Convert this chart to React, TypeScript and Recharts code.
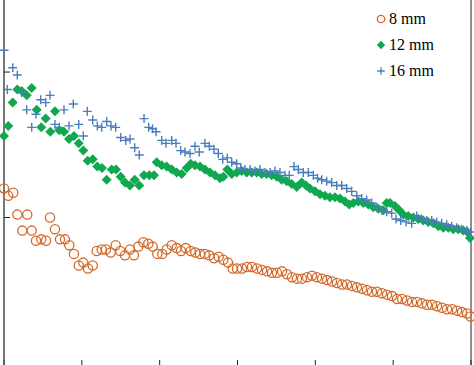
import { Legend, ReferenceLine, Scatter, ScatterChart, XAxis, YAxis } from "recharts";

// [x, y] pairs
const series8mm: [number, number][] = [
    [0, 1.20], [0.55, 1.15], [1.19, 1.17], [1.71, 1.02], [2.35, 0.91], [2.99, 1.02], [3.56, 0.91], [4.11, 0.84], [4.79, 0.85], [5.40, 0.84],
    [5.91, 1.00], [6.55, 0.92], [7.19, 0.85], [7.84, 0.85], [8.39, 0.81], [8.99, 0.75], [9.60, 0.67], [10.19, 0.69], [10.79, 0.65], [11.40, 0.67],
    [11.91, 0.77], [12.55, 0.78], [13.10, 0.78], [13.71, 0.76], [14.35, 0.81], [14.94, 0.77], [15.55, 0.74], [16.19, 0.78], [16.70, 0.74], [17.26, 0.80],
    [17.90, 0.83], [18.54, 0.82], [19.10, 0.80], [19.70, 0.75], [20.34, 0.75], [20.90, 0.78], [21.55, 0.81], [22.19, 0.79], [22.74, 0.77], [23.34, 0.79],
    [23.99, 0.77], [24.58, 0.76], [25.18, 0.75], [25.79, 0.75], [26.38, 0.74], [26.98, 0.72], [27.58, 0.73], [28.18, 0.71], [28.78, 0.69], [29.38, 0.65],
    [29.94, 0.65], [30.58, 0.65], [31.22, 0.66], [31.86, 0.66], [32.51, 0.65], [33.15, 0.64], [33.79, 0.63], [34.43, 0.62], [35.07, 0.62], [35.72, 0.63],
    [36.36, 0.61], [37.00, 0.59], [37.64, 0.58], [38.29, 0.58], [38.93, 0.59], [39.57, 0.60], [40.21, 0.59], [40.86, 0.58], [41.50, 0.57], [42.14, 0.56],
    [42.78, 0.55], [43.43, 0.54], [44.07, 0.54], [44.71, 0.53], [45.35, 0.52], [46.00, 0.51], [46.64, 0.50], [47.28, 0.49], [47.92, 0.49], [48.57, 0.48],
    [49.21, 0.47], [49.85, 0.46], [50.49, 0.44], [51.14, 0.44], [51.78, 0.43], [52.42, 0.42], [53.06, 0.42], [53.71, 0.41], [54.35, 0.40], [54.99, 0.40],
    [55.63, 0.39], [56.27, 0.38], [56.92, 0.37], [57.56, 0.37], [58.20, 0.36], [58.84, 0.35], [59.49, 0.34], [59.94, 0.32],
];

const series12mm: [number, number][] = [
    [0, 1.56], [0.55, 1.63], [1.12, 1.79], [1.71, 1.88], [2.27, 1.87], [2.92, 1.84], [3.56, 1.89], [4.20, 1.74], [4.79, 1.62], [5.36, 1.68],
    [5.95, 1.59], [6.55, 1.73], [7.10, 1.60], [7.71, 1.59], [8.35, 1.54], [8.99, 1.56], [9.60, 1.51], [10.19, 1.46], [10.75, 1.39], [11.40, 1.40],
    [11.99, 1.35], [12.59, 1.34], [13.19, 1.26], [13.84, 1.33], [14.39, 1.33], [14.99, 1.28], [15.55, 1.24], [16.19, 1.22], [16.79, 1.26], [17.38, 1.22],
    [17.99, 1.29], [18.67, 1.29], [19.27, 1.29], [19.62, 1.38], [20.26, 1.36], [20.90, 1.35], [21.55, 1.33], [22.19, 1.31], [22.83, 1.30], [23.47, 1.34],
    [23.99, 1.37], [24.54, 1.36], [25.18, 1.35], [25.82, 1.33], [26.47, 1.31], [27.11, 1.29], [27.75, 1.27], [28.18, 1.28], [28.69, 1.33], [29.26, 1.30],
    [29.90, 1.31], [30.54, 1.32], [31.18, 1.31], [31.83, 1.31], [32.47, 1.31], [33.11, 1.30], [33.75, 1.30], [34.39, 1.29], [35.04, 1.28], [35.68, 1.26],
    [36.32, 1.25], [36.96, 1.23], [37.61, 1.21], [38.25, 1.24], [38.80, 1.22], [39.31, 1.20], [39.96, 1.18], [40.60, 1.16], [41.24, 1.15], [41.88, 1.14],
    [42.53, 1.14], [43.17, 1.13], [43.81, 1.11], [44.36, 1.09], [44.88, 1.10], [45.52, 1.11], [46.16, 1.10], [46.81, 1.09], [47.45, 1.07], [48.09, 1.06],
    [48.73, 1.05], [49.17, 1.10], [49.59, 1.10], [50.24, 1.08], [50.79, 1.05], [51.30, 1.02], [51.94, 1.01], [52.59, 1.00], [53.23, 0.99], [53.87, 0.98],
    [54.52, 0.97], [55.16, 0.96], [55.80, 0.94], [56.44, 0.93], [57.08, 0.93], [57.73, 0.92], [58.37, 0.92], [59.01, 0.91], [59.53, 0.90], [59.87, 0.86],
];

const series16mm: [number, number][] = [
    [0, 2.15], [0.42, 1.88], [1.12, 2.03], [1.71, 1.98], [2.27, 1.86], [2.92, 1.74], [3.56, 1.62], [4.11, 1.71], [4.72, 1.81], [5.36, 1.79],
    [5.91, 1.84], [6.55, 1.64], [7.10, 1.62], [7.71, 1.74], [8.35, 1.63], [8.90, 1.78], [9.60, 1.64], [10.19, 1.56], [10.70, 1.73], [11.40, 1.67],
    [11.99, 1.63], [12.55, 1.62], [13.19, 1.66], [13.75, 1.63], [14.35, 1.62], [14.99, 1.55], [15.64, 1.53], [16.19, 1.54], [16.79, 1.48], [17.38, 1.43],
    [17.99, 1.68], [18.59, 1.62], [19.08, 1.61], [19.53, 1.59], [20.26, 1.53], [20.81, 1.51], [21.55, 1.53], [22.10, 1.51], [22.70, 1.46], [23.25, 1.45],
    [23.90, 1.44], [24.54, 1.49], [25.09, 1.45], [25.82, 1.51], [26.38, 1.49], [26.98, 1.47], [27.53, 1.44], [28.10, 1.40], [28.69, 1.41], [29.26, 1.38],
    [29.90, 1.37], [30.41, 1.34], [30.96, 1.33], [31.61, 1.33], [32.25, 1.32], [32.89, 1.33], [33.53, 1.31], [34.18, 1.31], [34.82, 1.32], [35.46, 1.31],
    [36.10, 1.29], [36.65, 1.29], [37.26, 1.35], [37.81, 1.33], [38.45, 1.31], [39.10, 1.31], [39.74, 1.29], [40.28, 1.27], [40.82, 1.26], [41.46, 1.25],
    [42.10, 1.24], [42.75, 1.22], [43.39, 1.22], [44.03, 1.20], [44.67, 1.18], [45.32, 1.15], [45.96, 1.13], [46.60, 1.12], [47.24, 1.10], [47.89, 1.07],
    [48.53, 1.05], [49.17, 1.04], [49.81, 1.03], [50.36, 0.99], [50.97, 0.98], [51.65, 0.97], [52.38, 0.96], [53.02, 1.01], [53.67, 0.99], [54.31, 0.98],
    [54.95, 0.98], [55.59, 0.97], [56.24, 0.96], [56.88, 0.95], [57.52, 0.94], [58.16, 0.93], [58.81, 0.92], [59.45, 0.91], [59.96, 0.90],
];

const xTicks = [0, 10, 20, 30, 40, 50, 60];
const yTicks = [1, 2];
const seriesNames = ["8 mm", "12 mm", "16 mm"];

const ORANGE = "#d4692a";
const GREEN = "#10a84e";
const BLUE = "#4a7dbd";

const toPoints = (s: [number, number][]) => s.map(([x, y]) => ({ x, y }));

// tick labels sit outside the cropped area, so only the tick lines are drawn
const noLabel = () => <g />;

const Circle = (props: any) => (
    <circle cx={props.cx} cy={props.cy} r={4.6} fill="none" stroke={ORANGE} strokeWidth={1.3} />
);

const Diamond = (props: any) => {
    const { cx, cy } = props;
    const d = 5;
    return <polygon points={`${cx},${cy - d} ${cx + d},${cy} ${cx},${cy + d} ${cx - d},${cy}`} fill={GREEN} />;
};

const Plus = (props: any) => {
    const { cx, cy } = props;
    const d = 4.5;
    return (
        <path d={`M${cx - d},${cy}H${cx + d}M${cx},${cy - d}V${cy + d}`} stroke={BLUE} strokeWidth={1.4} fill="none" />
    );
};

const legendIcons = [
    <circle cx={5} cy={5} r={3.7} fill="none" stroke={ORANGE} strokeWidth={1.3} />,
    <polygon points="5,0.8 9.2,5 5,9.2 0.8,5" fill={GREEN} />,
    <path d="M1.2,5H8.8M5,1.2V8.8" stroke={BLUE} strokeWidth={1.3} fill="none" />,
];

const renderLegend = () => (
    <div style={{ fontFamily: "'Liberation Serif', serif", fontSize: 16, color: "#000" }}>
        {seriesNames.map((name, i) => (
            <div key={name} style={{ display: "flex", alignItems: "center", height: 26 }}>
                <svg width={10} height={10} style={{ marginRight: 3 }}>{legendIcons[i]}</svg>
                <span>{name}</span>
            </div>
        ))}
    </div>
);

export default function App() {
    return (
        <div style={{ position: "absolute", left: 0, top: 0, width: 474, height: 365, overflow: "hidden", background: "#fff" }}>
            <div style={{ position: "absolute", left: 0, top: -10 }}>
                <ScatterChart width={474} height={390} margin={{ top: 0, right: 3, bottom: 14, left: 4 }}>
                    <XAxis
                        type="number"
                        dataKey="x"
                        domain={[0, 60]}
                        ticks={xTicks}
                        height={1}
                        mirror
                        tick={noLabel}
                        tickSize={6}
                        axisLine={false}
                        tickLine={{ stroke: "#222" }}
                    />
                    <YAxis
                        type="number"
                        dataKey="y"
                        domain={[-0.0206, 2.564]}
                        ticks={yTicks}
                        width={1}
                        mirror
                        tick={noLabel}
                        tickSize={6}
                        axisLine={{ stroke: "#555", strokeWidth: 1.6 }}
                        tickLine={{ stroke: "#222" }}
                        allowDataOverflow
                    />
                    <ReferenceLine x={60} stroke="#222" strokeWidth={1} />
                    <Scatter name="8 mm" data={toPoints(series8mm)} shape={Circle} isAnimationActive={false} />
                    <Scatter name="12 mm" data={toPoints(series12mm)} shape={Diamond} isAnimationActive={false} />
                    <Scatter name="16 mm" data={toPoints(series16mm)} shape={Plus} isAnimationActive={false} />
                    <Legend
                        layout="vertical"
                        align="center"
                        verticalAlign="middle"
                        content={renderLegend}
                        wrapperStyle={{ left: 376, top: 16, width: 80 }}
                    />
                </ScatterChart>
            </div>
        </div>
    );
}
